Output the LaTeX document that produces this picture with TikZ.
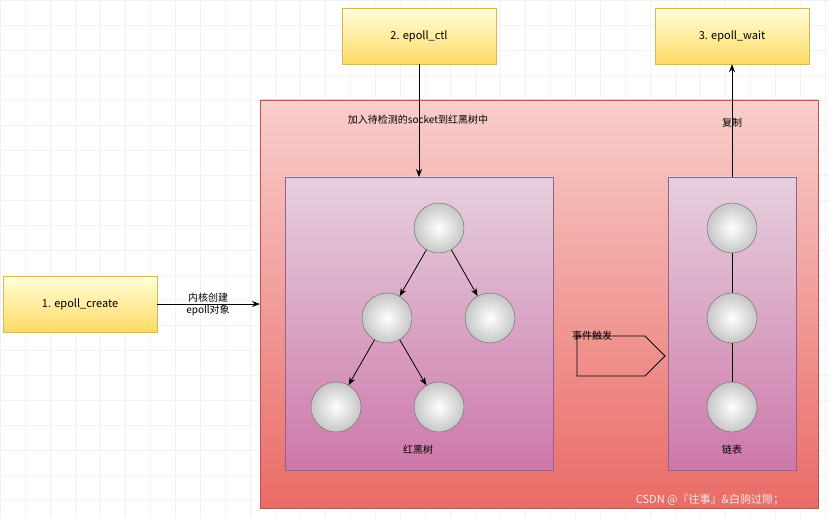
\documentclass[tikz,border=0pt]{standalone}
\usepackage{fontspec}
\setmainfont{Noto Sans CJK SC}
\usetikzlibrary{shapes.arrows,arrows.meta}
\definecolor{ybord}{HTML}{D6B656}
\definecolor{pbord}{HTML}{996185}
\definecolor{rbord}{HTML}{B85450}
\tikzset{
 ybox/.style={draw=ybord,top color=yellow!15!white,bottom color={rgb,255:red,255;green,217;blue,102},minimum width=154pt,minimum height=56pt,font=\fontsize{11}{13}\selectfont},
 pbox/.style={draw=pbord,top color={rgb,255:red,230;green,208;blue,222},bottom color={rgb,255:red,205;green,120;blue,170}},
 circ/.style={circle,draw=gray!80!black,inner color=white,outer color=gray!45,minimum size=50pt,inner sep=0pt},
 arr/.style={-{Stealth[length=8pt,width=6pt]},line width=0.8pt},
 lbl/.style={font=\fontsize{10}{12}\selectfont,align=center}
}
\begin{document}
\begin{tikzpicture}[x=1pt,y=-1pt]
\useasboundingbox (0,0) rectangle (829,518);
\fill[white] (0,0) rectangle (829,518);
\draw[gray!10] (0,0) grid[step=25pt] (829,518);
\path[draw=rbord,top color={rgb,255:red,248;green,206;blue,204},bottom color={rgb,255:red,234;green,107;blue,102}] (260,100) rectangle (818,508);
\node[coordinate] (bigL) at (260,304) {};
\path[pbox] (285,177) rectangle (553,470);
\path[pbox] (668,177) rectangle (796,470);
\coordinate (rtop) at (732,177);
\coordinate (ltop) at (419,177);
\node[ybox] (create) at (80,304) {1. epoll\_create};
\node[ybox] (ctl) at (419,36) {2. epoll\_ctl};
\node[ybox] (wait) at (732,36) {3. epoll\_wait};
\node[circ] (t1) at (439,228) {};
\node[circ] (t2) at (387,318) {};
\node[circ] (t3) at (490,318) {};
\node[circ] (t4) at (336,407) {};
\node[circ] (t5) at (439,407) {};
\node[circ] (l1) at (732,228) {};
\node[circ] (l2) at (732,318) {};
\node[circ] (l3) at (732,407) {};
\draw[arr] (t1) -- (t2);
\draw[arr] (t1) -- (t3);
\draw[arr] (t2) -- (t4);
\draw[arr] (t2) -- (t5);
\draw[line width=0.8pt] (l1) -- (l2) (l2) -- (l3);
\draw[arr] (ctl) -- (ltop);
\draw[arr] (rtop) -- (wait);
\draw[arr] (create) -- (bigL);
\node[lbl] (cl) at (208,304) {内核创建\\epoll对象};
\node[lbl] (al) at (418,120) {加入待检测的socket到红黑树中};
\node[lbl] (cp) at (732,123) {复制};
\node[single arrow,draw,fill=none,line width=0.8pt,minimum height=88pt,minimum width=40pt,single arrow head extend=0pt,single arrow tip angle=90,inner sep=0pt,shape border uses incircle=false] (ba) at (611,356) {};
\node[lbl] (ev) at (592,336) {事件触发};
\node[lbl] (rb) at (418,450) {红黑树};
\node[lbl] (lb) at (732,450) {链表};
\node[font=\fontsize{11}{13}\selectfont,text=white!85!gray] (wm) at (710,500) {CSDN @『往事』\&白驹过隙；};
\end{tikzpicture}
\end{document}
